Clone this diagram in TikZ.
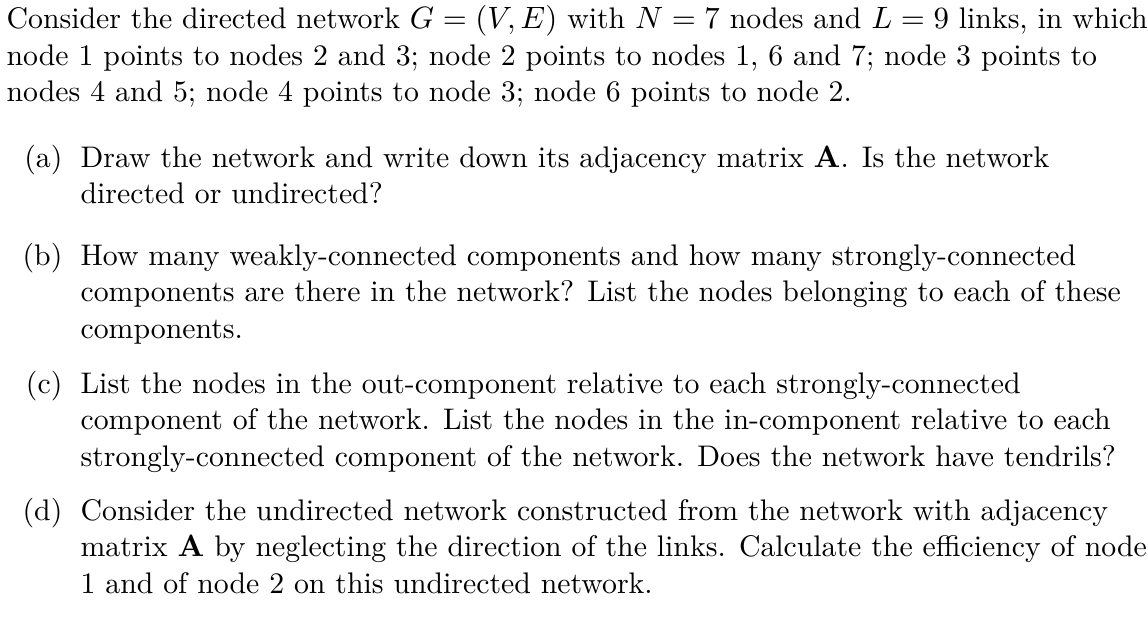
\documentclass[tikz,border=0pt]{standalone}
\begin{document}
\begin{tikzpicture}[x=0.324pt,y=-0.324pt,
  ln/.style={anchor=base west,inner sep=0pt,font=\fontsize{9.65}{12}\selectfont},
  lab/.style={anchor=base east,inner sep=0pt,font=\fontsize{9.65}{12}\selectfont}]
\useasboundingbox (0,0) rectangle (1148,637);
\node[ln] (p1) at (6,29) {Consider the directed network $G=(V,E)$ with $N=7$ nodes and $L=9$ links, in which};
\node[ln] (p2) at (6,65.5) {node 1 points to nodes 2 and 3; node 2 points to nodes 1, 6 and 7; node 3 points to};
\node[ln] (p3) at (6,102) {nodes 4 and 5; node 4 points to node 3; node 6 points to node 2.};
\node[lab] (la) at (63,167) {(a)};
\node[ln] (a1) at (80,167) {Draw the network and write down its adjacency matrix $\mathbf{A}$. Is the network};
\node[ln] (a2) at (80,203.5) {directed or undirected?};
\node[lab] (lb) at (63,265) {(b)};
\node[ln] (b1) at (80,265) {How many weakly-connected components and how many strongly-connected};
\node[ln] (b2) at (80,301.5) {components are there in the network? List the nodes belonging to each of these};
\node[ln] (b3) at (80,338) {components.};
\node[lab] (lc) at (63,393) {(c)};
\node[ln] (c1) at (80,393) {List the nodes in the out-component relative to each strongly-connected};
\node[ln] (c2) at (80,429.5) {component of the network. List the nodes in the in-component relative to each};
\node[ln] (c3) at (80,466) {strongly-connected component of the network. Does the network have tendrils?};
\node[lab] (ld) at (63,520) {(d)};
\node[ln] (d1) at (80,520) {Consider the undirected network constructed from the network with adjacency};
\node[ln] (d2) at (80,556.5) {matrix $\mathbf{A}$ by neglecting the direction of the links. Calculate the efficiency of node};
\node[ln] (d3) at (80,593) {1 and of node 2 on this undirected network.};
\end{tikzpicture}
\end{document}
